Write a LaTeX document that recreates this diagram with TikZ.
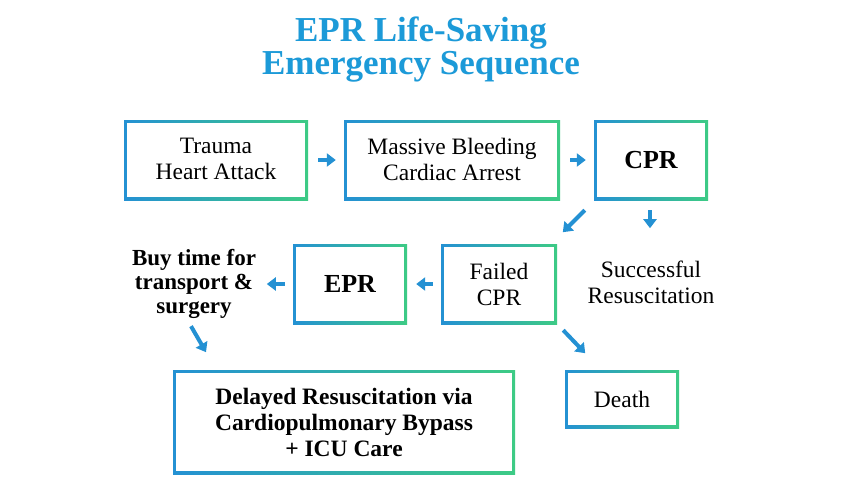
\documentclass[tikz,border=0pt]{standalone}
\usepackage{fontspec}
\setmainfont{Liberation Serif}
\usetikzlibrary{arrows.meta,calc}
\definecolor{bl}{HTML}{2491D3}
\definecolor{gr}{HTML}{3DCB85}
\definecolor{tt}{HTML}{1C9AD8}
\begin{document}
\begin{tikzpicture}[x=1pt,y=-1pt,
  arr/.style={draw=bl,line width=4pt,-{Triangle[length=9pt,width=13pt]}}]
\useasboundingbox (0,0) rectangle (857,483);
\fill[white] (0,0) rectangle (857,483);
\newcommand\gbox[5]{%
  \shade[left color=bl,right color=gr] (#1,#2) rectangle (#3,#4);
  \fill[white] ($(#1,#2)+(2.6,2.6)$) rectangle ($(#3,#4)+(-2.6,-2.6)$);
  \node[inner sep=0pt,minimum width={#3-#1},minimum height={#4-#2}] (#5) at ({(#1+#3)/2},{(#2+#4)/2}) {};}
\gbox{124}{120}{308}{200}{a}
\gbox{344}{120}{560}{200}{b}
\gbox{594}{120}{708}{200}{c}
\gbox{293}{244}{407}{324}{e}
\gbox{441}{244}{557}{324}{f}
\gbox{565}{370}{679}{428}{d}
\gbox{173}{370}{515}{474}{g}
\tikzset{tx/.style={align=center,font=\fontsize{23.5}{26}\selectfont}}
\node[tx,text=tt,font=\bfseries\fontsize{35}{33}\selectfont] (t) at (421,50) {EPR Life-Saving\\Emergency Sequence};
\node[tx] at ($(a)+(0,-1)$) {Trauma\\Heart Attack};
\node[tx] at ($(b)+(0,-1)$) {Massive Bleeding\\Cardiac Arrest};
\node[tx,font=\bfseries\fontsize{26}{26}\selectfont] at (c) {CPR};
\node[tx,font=\bfseries\fontsize{26}{26}\selectfont] at (e) {EPR};
\node[tx] at (f) {Failed\\CPR};
\node[tx] at (d) {Death};
\node[tx,font=\bfseries\fontsize{23.5}{26}\selectfont] at (g) {Delayed Resuscitation via\\Cardiopulmonary Bypass\\+ ICU Care};
\node[tx] (s) at (651,282) {Successful\\Resuscitation};
\node[tx,font=\bfseries\fontsize{23}{24}\selectfont] (u) at (194,284) {Buy time for\\transport \&\\surgery};
\draw[arr,shorten <=10pt,shorten >=8pt] (a.east) -- (b.west);
\draw[arr,shorten <=10pt,shorten >=8pt] (b.east) -- (c.west);
\draw[arr] ($(c.south west)+(-9,10)$) coordinate (c1) -- ++(-22,22);
\draw[arr] ($(c.south)+(-1,10)$) coordinate (c3) -- ++(0,18);
\draw[arr] ($(f.west)+(-8,0)$) coordinate (f1) -- ($(e.east)+(9,0)$);
\draw[arr] ($(e.west)+(-8,0)$) coordinate (e1) -- ($(e.west)+(-26,0)$);
\draw[arr] ($(u.south)+(-3,4)$) coordinate (u1) -- ++(15,26);
\draw[arr] ($(f.south east)+(6,6)$) coordinate (f2) -- ++(22,23);
\end{tikzpicture}
\end{document}
